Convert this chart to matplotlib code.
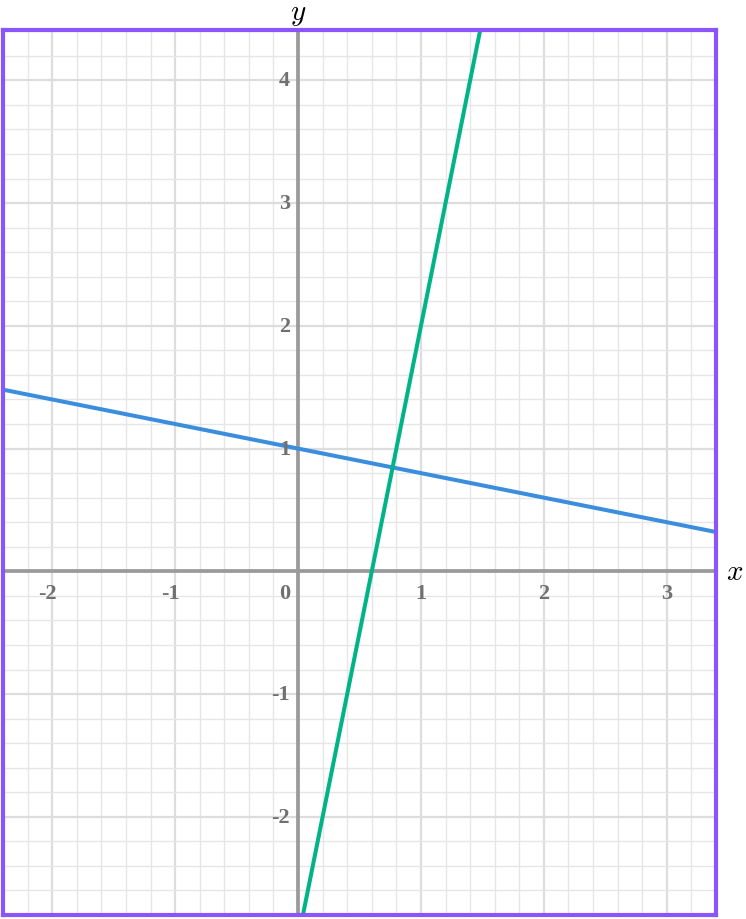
import matplotlib

matplotlib.use("Agg")
import matplotlib.pyplot as plt
import numpy as np

# values
x_range = [-2.38, 3.40]
y_range = [-2.77, 4.41]
x_ticks = [-2, -1, 1, 2, 3]
y_ticks = [-2, -1, 1, 2, 3, 4]

# line endpoints (blue: y = 1 - 0.2x, green: y = 5x - 3)
blue_x = [-2.5, 3.5]
blue_y = [1.5, 0.3]
green_x = [0.0, 1.5]
green_y = [-3.0, 4.5]

BLUE = "#3b8ede"
GREEN = "#00b487"
PURPLE = "#8a55fb"
AXIS = "#9a9a9a"
LABEL = "#707070"

plt.rcParams["mathtext.fontset"] = "cm"

fig = plt.figure(figsize=(7.46, 9.20), dpi=100)
ax = fig.add_axes([3 / 746, 4 / 920, 713 / 746, 885 / 920])
ax.set_xlim(*x_range)
ax.set_ylim(*y_range)

ax.set_xticks(np.arange(-2, 4))
ax.set_yticks(np.arange(-2, 5))
ax.set_xticks(np.arange(-2.4, 3.41, 0.2), minor=True)
ax.set_yticks(np.arange(-2.8, 4.41, 0.2), minor=True)
ax.grid(which="major", color="#dddddd", lw=1.6, zorder=0)
ax.grid(which="minor", color="#e6e6e6", lw=1.0, zorder=0)
ax.tick_params(which="both", length=0, labelbottom=False, labelleft=False)
ax.set_axisbelow(True)

ax.axhline(0, color=AXIS, lw=2.7, zorder=2)
ax.axvline(0, color=AXIS, lw=2.7, zorder=2)

ax.plot(blue_x, blue_y, color=BLUE, lw=2.9, zorder=3, solid_capstyle="butt")
ax.plot(green_x, green_y, color=GREEN, lw=2.9, zorder=3, solid_capstyle="butt")

lab = dict(color=LABEL, fontsize=16, fontweight="bold", family="Liberation Serif")
for t in x_ticks:
    dx = -0.035 if t < 0 else 0
    ax.text(t + dx, -0.18, str(t), ha="center", va="center", **lab)
for t in y_ticks:
    ax.text(-0.065, t, str(t), ha="right", va="center", **lab)
ax.text(-0.065, -0.18, "0", ha="right", va="center", **lab)

ax.text(0, 4.55, "$y$", ha="center", va="center", fontsize=21, clip_on=False)
ax.text(3.55, 0.0, "$x$", ha="center", va="center", fontsize=21, clip_on=False)

for s in ax.spines.values():
    s.set_color(PURPLE)
    s.set_linewidth(3)
    s.set_zorder(5)

fig.savefig("out.png", dpi=100)
